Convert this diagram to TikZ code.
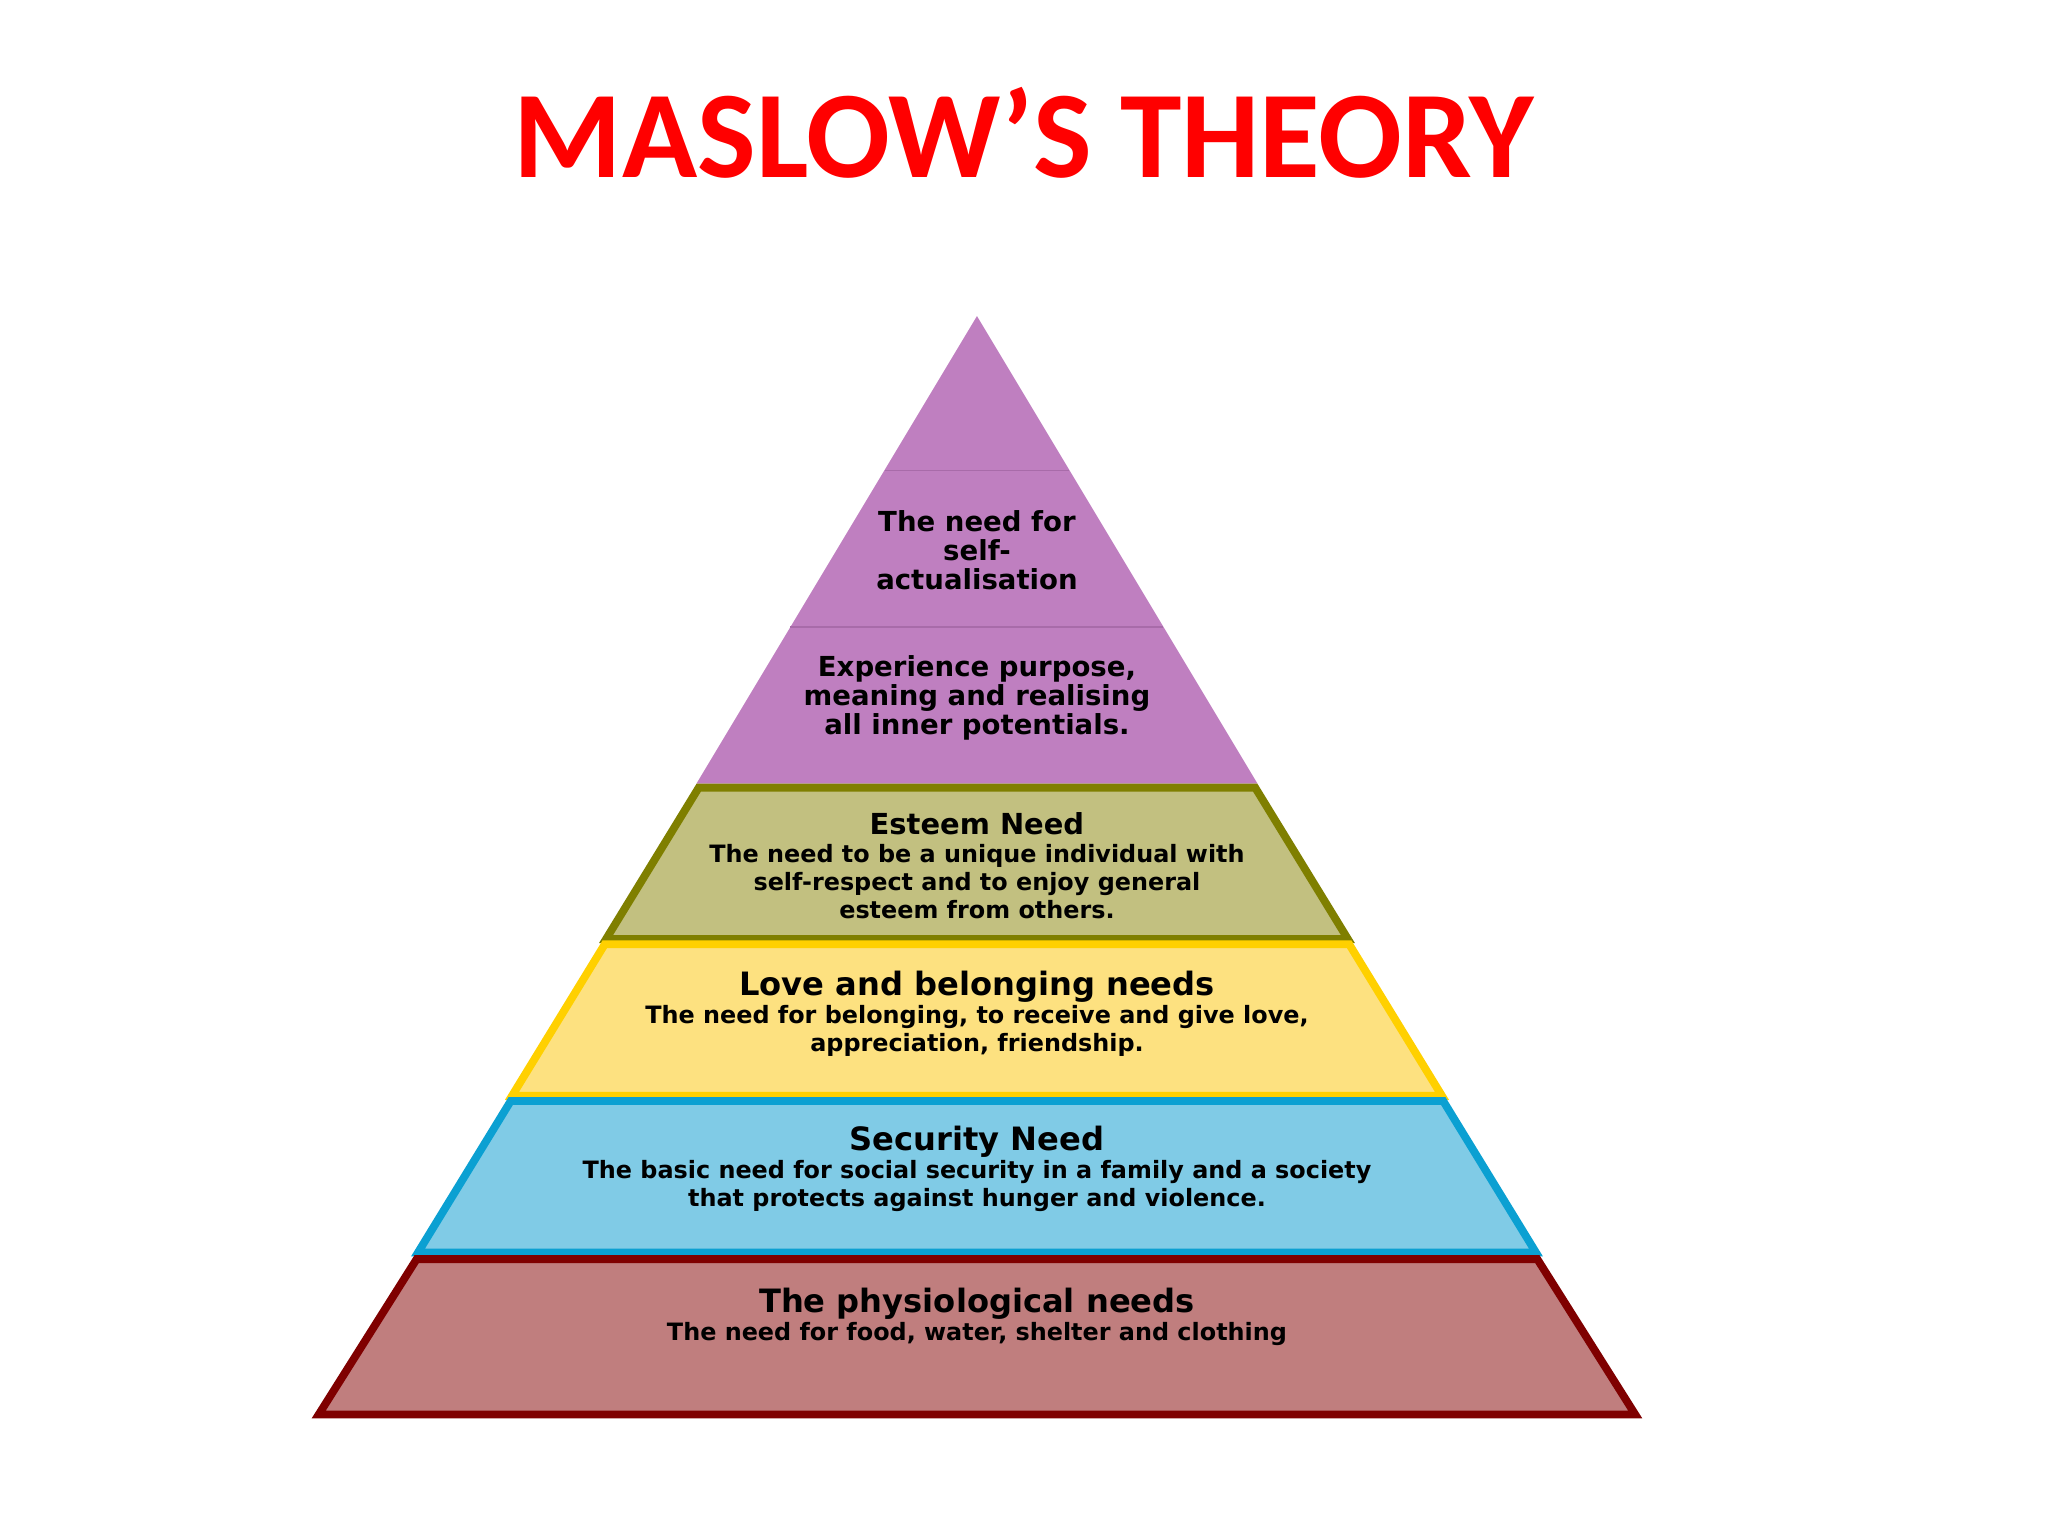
\documentclass[tikz,border=0pt]{standalone}
\usepackage{fontspec}
\setmainfont{DejaVu Sans}
\newfontfamily\titlefont{Carlito}
\begin{document}
\begin{tikzpicture}[x=0.01cm,y=-0.01cm,
  lyr/.style={line width=0.06cm, line join=miter},
  txt/.style={font=\fontsize{5.2}{6.1}\selectfont\bfseries, align=center, inner sep=0pt},
  hd/.style={font=\fontsize{6.3}{7}\selectfont\bfseries}]
\useasboundingbox (0,0) rectangle (1568,1176);
\definecolor{purp}{HTML}{BF7FC0}
\definecolor{purpl}{HTML}{A86BA9}
\definecolor{estf}{HTML}{C2C080}
\definecolor{estd}{HTML}{7F7F00}
\definecolor{lovf}{HTML}{FDE180}
\definecolor{lovd}{HTML}{FFD000}
\definecolor{secf}{HTML}{80CBE6}
\definecolor{secd}{HTML}{0BA0D2}
\definecolor{phyf}{HTML}{C07E7E}
\definecolor{phyd}{HTML}{7F0000}
\node[font=\titlefont\fontsize{27}{30}\selectfont\bfseries, text=red] (title) at (784,102) {MASLOW’S THEORY};
% top triangle
\fill[purp] (748,242) -- (962.8,600) -- (533.2,600) -- cycle;
\draw[purpl, line width=0.01cm] (677.2,360) -- (818.8,360);
\draw[purpl, line width=0.01cm] (605.2,480) -- (890.8,480);
% layers
\filldraw[lyr, fill=estf, draw=estd] (535,603) -- (961,603) -- (1032,719) -- (464,719) -- cycle;
\filldraw[lyr, fill=lovf, draw=lovd] (463,723) -- (1033,723) -- (1104,839) -- (392,839) -- cycle;
\filldraw[lyr, fill=secf, draw=secd] (391,843) -- (1105,843) -- (1176,959) -- (320,959) -- cycle;
\filldraw[lyr, fill=phyf, draw=phyd] (319,964) -- (1177,964) -- (1252,1083) -- (244,1083) -- cycle;
% texts
\node[txt, font=\fontsize{6}{6.3}\selectfont\bfseries] (t1) at (748,421) {The need for\\self-\\actualisation};
\node[txt, font=\fontsize{6}{6.3}\selectfont\bfseries] (t2) at (748,534) {Experience purpose,\\meaning and realising\\all inner potentials.};
\node[txt] (t3) at (748,663) {{\fontsize{6.3}{7}\selectfont Esteem Need}\\The need to be a unique individual with\\self-respect and to enjoy general\\esteem from others.};
\node[txt] (t4) at (748,776) {{\fontsize{7}{8}\selectfont Love and belonging needs}\\The need for belonging, to receive and give love,\\appreciation, friendship.};
\node[txt] (t5) at (748,895) {{\fontsize{7}{8}\selectfont Security Need}\\The basic need for social security in a family and a society\\that protects against hunger and violence.};
\node[txt] (t6) at (748,1008) {{\fontsize{7}{8}\selectfont The physiological needs}\\The need for food, water, shelter and clothing};
\end{tikzpicture}
\end{document}
